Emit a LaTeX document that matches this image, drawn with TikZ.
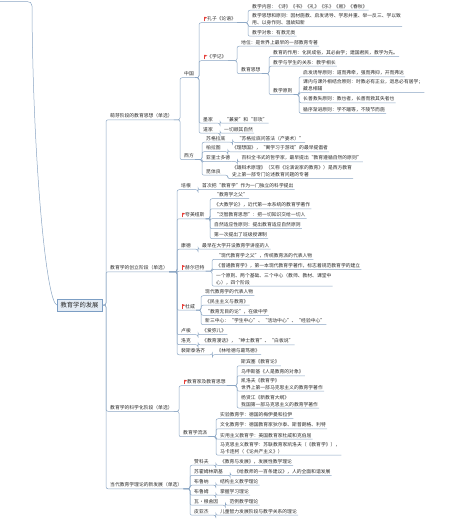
\documentclass[tikz,border=0pt]{standalone}
\usepackage{fontspec}
\setmainfont{Noto Sans CJK SC}
\usetikzlibrary{positioning}

\definecolor{linkblue}{HTML}{8AA5C3}
\definecolor{rootfill}{HTML}{E4ECF5}
\definecolor{rootline}{HTML}{7C9EC4}
\definecolor{flagred}{HTML}{E5403A}
\definecolor{inkgray}{HTML}{2B2B2B}

\tikzset{
  topic/.style={font=\fontsize{4.8}{6.8}\selectfont, text=inkgray, inner xsep=1pt, inner ysep=1.3pt, anchor=west, align=left},
  link/.style={draw=linkblue, line width=.5pt, rounded corners=2pt},
  rootbox/.style={draw=rootline, fill=rootfill, line width=.6pt, font=\fontsize{6.3}{8}\selectfont, text=inkgray, minimum width=45pt, minimum height=12pt, inner sep=1pt},
  flag/.pic={
    \draw[flagred, line width=.4pt] (0,2.4) -- (0,-2.4);
    \fill[flagred] (0,-2.4) -- (2.8,-1.3) -- (0,-0.2) -- cycle;
  }
}
\newcommand\linkto[2]{\draw[link] (#1.south east) -| ([xshift=-3pt]#2.south west) -- (#2.south east);}

\begin{document}
\begin{tikzpicture}[x=1pt,y=-1pt]
\useasboundingbox (0,0) rectangle (474,520);

% root
\node[rootbox] (root) at (79.5,305) {教育学的发展};
\coordinate (upper) at (0,1.5);
\draw[link] (root.west) .. controls (46,300) and (33,160) .. (32,8) .. controls (32,3) and (30,1.5) .. (25,1.5) -- (upper);

% stages
\node[topic] (b1) at (109,116) {萌芽阶段的教育思想（单选）};
\node[topic] (b2) at (109,268) {教育学的创立阶段（单选）};
\node[topic] (b3) at (109,407.5) {教育学的科学化阶段（单选）};
\node[topic] (b4) at (109,485) {当代教育学理论的新发展（单选）};
\foreach \b in {b1,b2,b3,b4}
  \draw[link] (root.east) -| ([xshift=-3pt]\b.south west) -- (\b.south east);

% 萌芽阶段
\node[topic] (cn) at (183,74) {中国};
\node[topic] (xf) at (183,156) {西方};
\node[topic] (kz) at (202,19) {\hspace*{4pt}孔子《论语》};
\node[topic] (xj) at (202,57) {\hspace*{4pt}《学记》};
\node[topic] (mj) at (202,119.5) {墨家};
\node[topic, right=9pt of mj] (mj1) {“兼爱”和“非攻”};
\node[topic] (dj) at (202,129.5) {道家};
\node[topic, right=9pt of dj] (dj1) {一切顺其自然};

\node[topic] (kz1) at (251,6.5) {教学内容：《诗》《书》《礼》《乐》《易》《春秋》};
\node[topic] (kz2) at (251,19.5) {教学思想和原则：因材施教、启发诱导、学思并重、举一反三、学以致\\用、以身作则、温故知新};
\node[topic] (kz3) at (251,32.5) {教学对象：有教无类};

\node[topic] (xj1) at (240,42.5) {地位：是世界上最早的一部教育专著};
\node[topic] (xj2) at (240,70) {教育思想};
\node[topic] (sx1) at (272,52.5) {教育的作用：化民成俗，其必由学；建国君民，教学为先。};
\node[topic] (sx2) at (272,62.5) {教学与学生的关系：教学相长};
\node[topic] (sx3) at (272,91) {教学原则};
\node[topic] (yz1) at (302,73) {启发诱导原则：道而弗牵，强而弗抑，开而弗达};
\node[topic] (yz2) at (302,85.5) {课内与课外相结合原则：时教必有正业，退息必有居学；\\藏息相辅};
\node[topic] (yz3) at (302,99) {长善救失原则：教也者，长善而救其失者也};
\node[topic] (yz4) at (302,109.5) {循序渐进原则：学不躐等，不陵节而施};

\node[topic] (sg) at (205,138.5) {苏格拉底};
\node[topic, right=9pt of sg] (sg1) {“苏格拉底问答法（产婆术）”};
\node[topic] (bl) at (205,148) {柏拉图};
\node[topic, right=9pt of bl] (bl1) {《理想国》，“寓学习于游戏”的最早提倡者};
\node[topic] (yl) at (205,158) {亚里士多德};
\node[topic, right=9pt of yl] (yl1) {百科全书式的哲学家，最早提出“教育遵循自然的原则”};
\node[topic] (kt) at (205,171.5) {昆体良};
\node[topic, right=9pt of kt] (kt1) {《雄辩术原理》（又称《论演说家的教育》）是西方教育\\史上第一部专门论述教育问题的专著};

% 创立阶段
\node[topic] (pg) at (180,186) {培根};
\node[topic, right=9pt of pg] (pg1) {首次把“教育学”作为一门独立的科学提出};
\node[topic] (km) at (180,215) {\hspace*{4pt}夸美纽斯};
\node[topic] (km1) at (213,195) {“教育学之父”};
\node[topic] (km2) at (213,205) {《大教学论》，近代第一本系统的教育学著作};
\node[topic] (km3) at (213,215) {“泛智教育思想”：把一切知识交给一切人};
\node[topic] (km4) at (213,225) {自然适应性原则：提出教育适应自然原则};
\node[topic] (km5) at (213,235) {第一次提出了班级授课制};
\node[topic] (kd) at (180,245.5) {康德};
\node[topic, right=9pt of kd] (kd1) {最早在大学开设教育学讲座的人};
\node[topic] (hb) at (180,267.5) {\hspace*{4pt}赫尔巴特};
\node[topic] (hb1) at (215,255.5) {“现代教育学之父”，传统教育派的代表人物};
\node[topic] (hb2) at (215,265.5) {《普通教育学》，第一本现代教育学著作，标志着规范教育学的建立};
\node[topic] (hb3) at (215,279) {一个原则、两个基础、三个中心（教师、教材、课堂中\\心），四个阶段};
\node[topic] (dw) at (180,306.5) {\hspace*{4pt}杜威};
\node[topic] (dw1) at (204,292) {现代教育学的代表人物};
\node[topic] (dw2) at (204,301.5) {《民主主义与教育》};
\node[topic] (dw3) at (204,311.5) {“教育无目的论”，在做中学};
\node[topic] (dw4) at (204,321) {新三中心：“学生中心”、“活动中心”、“经验中心”};
\node[topic] (ls) at (180,331) {卢梭};
\node[topic, right=9pt of ls] (ls1) {《爱弥儿》};
\node[topic] (lk) at (180,341) {洛克};
\node[topic, right=9pt of lk] (lk1) {《教育漫话》，“绅士教育”、“白板说”};
\node[topic] (pz) at (180,351) {裴斯泰洛齐};
\node[topic, right=9pt of pz] (pz1) {《林哈德与葛笃德》};

% 科学化阶段
\node[topic] (jy) at (182,382) {\hspace*{4pt}教育家及教育思想};
\node[topic] (jy1) at (240,362) {斯宾塞《教育论》};
\node[topic] (jy2) at (240,372) {乌申斯基《人是教育的对象》};
\node[topic] (jy3) at (240,384) {凯洛夫《教育学》\\世界上第一部马克思主义的教育学著作};
\node[topic] (jy4) at (240,401) {杨贤江《新教育大纲》\\我国第一部马克思主义的教育学著作};
\node[topic] (lp) at (182,433) {教育学流派};
\node[topic] (lp1) at (219,415) {实验教育学：德国的梅伊曼和拉伊};
\node[topic] (lp2) at (219,425) {文化教育学：德国教育家狄尔泰、斯普朗格、利特};
\node[topic] (lp3) at (219,435.5) {实用主义教育学：美国教育家杜威和克伯屈};
\node[topic] (lp4) at (219,448) {马克思主义教育学：苏联教育家凯洛夫（《教育学》），\\马卡连柯（《论共产主义》）};

% 新发展
\node[topic] (zk) at (193,461.5) {赞科夫};
\node[topic, right=9pt of zk] (zk1) {《教育与发展》，发展性教学理论};
\node[topic] (sh) at (193,471.5) {苏霍姆林斯基};
\node[topic, right=9pt of sh] (sh1) {《给教师的一百条建议》，人的全面和谐发展};
\node[topic] (bn) at (193,481.5) {布鲁纳};
\node[topic, right=9pt of bn] (bn1) {结构主义教学理论};
\node[topic] (bm) at (193,491.5) {布鲁姆};
\node[topic, right=9pt of bm] (bm1) {掌握学习理论};
\node[topic] (wg) at (193,501.5) {瓦·根舍因};
\node[topic, right=9pt of wg] (wg1) {范例教学理论};
\node[topic] (pj) at (193,511.5) {皮亚杰};
\node[topic, right=9pt of pj] (pj1) {儿童智力发展阶段与教学关系的理论};

% connectors
\foreach \p/\c in {b1/cn, b1/xf, cn/kz, cn/xj, cn/mj, cn/dj, mj/mj1, dj/dj1,
    kz/kz1, kz/kz2, kz/kz3, xj/xj1, xj/xj2, xj2/sx1, xj2/sx2, xj2/sx3,
    sx3/yz1, sx3/yz2, sx3/yz3, sx3/yz4,
    xf/sg, xf/bl, xf/yl, xf/kt, sg/sg1, bl/bl1, yl/yl1, kt/kt1,
    b2/pg, b2/km, b2/kd, b2/hb, b2/dw, b2/ls, b2/lk, b2/pz, pg/pg1, kd/kd1, ls/ls1, lk/lk1, pz/pz1,
    km/km1, km/km2, km/km3, km/km4, km/km5, hb/hb1, hb/hb2, hb/hb3,
    dw/dw1, dw/dw2, dw/dw3, dw/dw4,
    b3/jy, b3/lp, jy/jy1, jy/jy2, jy/jy3, jy/jy4, lp/lp1, lp/lp2, lp/lp3, lp/lp4,
    b4/zk, b4/sh, b4/bn, b4/bm, b4/wg, b4/pj, zk/zk1, sh/sh1, bn/bn1, bm/bm1, wg/wg1, pj/pj1}
  {\linkto{\p}{\c}}

% flags
\foreach \n in {kz,xj,km,hb,dw,jy}
  \pic at ([xshift=2.6pt]\n.west) {flag};
\end{tikzpicture}
\end{document}
